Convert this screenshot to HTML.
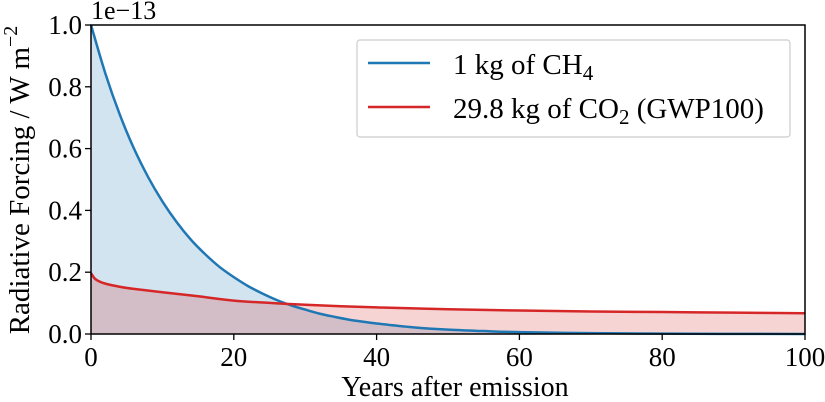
<!DOCTYPE html>
<html><head><meta charset="utf-8"><style>
html,body{margin:0;padding:0;background:#fff;}
svg{display:block;font-family:"Liberation Serif",serif;}
</style></head><body>
<svg id="chart" width="825" height="402" viewBox="0 0 825 402" xmlns="http://www.w3.org/2000/svg"></svg>
<script>
const ch4Years=[0,2,4,6,8,10,12,14,16,18,20,22,24,26,28,30,32,34,36,38,40,45,50,55,60,70,80,90,100];
const ch4Values=[1.0,0.844,0.712,0.601,0.508,0.429,0.362,0.305,0.258,0.217,0.184,0.155,0.131,0.110,0.093,0.079,0.066,0.056,0.047,0.040,0.034,0.022,0.014,0.0095,0.006,0.0027,0.0011,0.0005,0.0002];
const co2Years=[0,0.5,1,2,4,6,10,15,20,27,35,40,50,60,70,80,90,100];
const co2Values=[0.197,0.18,0.172,0.163,0.153,0.146,0.135,0.122,0.108,0.098,0.090,0.086,0.080,0.076,0.073,0.071,0.069,0.067];
const xTicks=[0,20,40,60,80,100];
const yTicks=[0,0.2,0.4,0.6,0.8,1.0];
const yTickLabels=["0.0","0.2","0.4","0.6","0.8","1.0"];

const L=91,R=805,T=25,B=334;
const xs=v=>L+(v/100)*(R-L);
const ys=v=>B-(v/1.0)*(B-T);
const svg=document.getElementById('chart');
const NS='http://www.w3.org/2000/svg';
function mk(tag,attrs,parent){const e=document.createElementNS(NS,tag);for(const k in attrs)e.setAttribute(k,attrs[k]);(parent||svg).appendChild(e);return e;}

function pathD(xa,ya){
  const p=xa.map((x,i)=>[xs(x),ys(ya[i])]);
  let d='M'+p[0][0].toFixed(2)+','+p[0][1].toFixed(2);
  for(let i=0;i<p.length-1;i++){
    const p0=p[Math.max(0,i-1)],p1=p[i],p2=p[i+1],p3=p[Math.min(p.length-1,i+2)];
    const c1x=p1[0]+(p2[0]-p0[0])/6,c1y=p1[1]+(p2[1]-p0[1])/6;
    const c2x=p2[0]-(p3[0]-p1[0])/6,c2y=p2[1]-(p3[1]-p1[1])/6;
    d+='C'+c1x.toFixed(2)+','+c1y.toFixed(2)+' '+c2x.toFixed(2)+','+c2y.toFixed(2)+' '+p2[0].toFixed(2)+','+p2[1].toFixed(2);
  }
  return d;
}
function areaD(xa,ya){return pathD(xa,ya)+'L'+xs(xa[xa.length-1])+','+ys(0)+'L'+xs(xa[0])+','+ys(0)+'Z';}

const a1=mk('path',{d:areaD(ch4Years,ch4Values),fill:'#1f77b4','fill-opacity':'0.2',stroke:'none'});


const a2=mk('path',{d:areaD(co2Years,co2Values),fill:'#d62728','fill-opacity':'0.2',stroke:'none'});


const l1=mk('path',{d:pathD(ch4Years,ch4Values),fill:'none',stroke:'#1f77b4','stroke-width':'2.5'});


const l2=mk('path',{d:pathD(co2Years,co2Values),fill:'none',stroke:'#d62728','stroke-width':'2.5'});



const frame=mk('rect',{x:L,y:T,width:R-L,height:B-T,fill:'none',stroke:'#000','stroke-width':'1.5'});



xTicks.forEach(t=>{
  const ln=mk('line',{x1:xs(t),x2:xs(t),y1:B,y2:B+6,stroke:'#000','stroke-width':'1.3'});
  
  
  const tx=mk('text',{x:xs(t),y:B+32,'font-size':'27','text-anchor':'middle',fill:'#000'});
  tx.textContent=t;
  
  
});
yTicks.forEach((t,i)=>{
  const ln=mk('line',{x1:L-6,x2:L,y1:ys(t),y2:ys(t),stroke:'#000','stroke-width':'1.3'});
  
  
  const tx=mk('text',{x:L-9,y:ys(t)+9,'font-size':'27','text-anchor':'end',fill:'#000'});
  tx.textContent=yTickLabels[i];
  
  
});
</script>
<script>
(function(){
const svg=document.getElementById('chart');
svg.insertAdjacentHTML('beforeend',`
<text x="91" y="19" font-size="26">1e−13</text>
<text x="455" y="396" font-size="28" text-anchor="middle">Years after emission</text>
<text transform="translate(29,180) rotate(-90)" font-size="29" text-anchor="middle">Radiative Forcing / W m<tspan dy="-12" font-size="20">−2</tspan></text>
<g>
<rect x="357" y="40" width="433" height="97" rx="3" fill="#fff" fill-opacity="0.85" stroke="#ccc" stroke-width="1.2"/>
<line x1="368" y1="63" x2="430" y2="63" stroke="#1f77b4" stroke-width="2.5"/>
<text x="453" y="74" font-size="29">1 kg of CH<tspan dy="6" font-size="21">4</tspan></text>
<line x1="368" y1="107" x2="430" y2="107" stroke="#d62728" stroke-width="2.5"/>
<text x="453" y="118" font-size="29">29.8 kg of CO<tspan dy="6" font-size="21">2</tspan><tspan dy="-6"> (GWP100)</tspan></text>
</g>`);
})();
</script>
</body></html>
